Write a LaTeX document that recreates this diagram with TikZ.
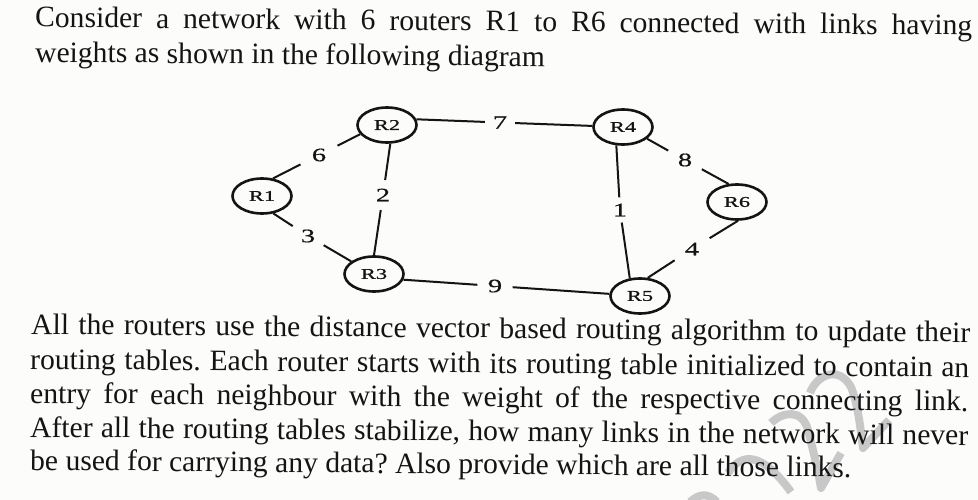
\documentclass[tikz,border=0pt]{standalone}
\usepackage{fontspec}
\usetikzlibrary{shapes.geometric}
\setmainfont{Liberation Serif}
\newfontfamily\routerfont[FakeStretch=1.5,FakeBold=0.6]{Liberation Serif}
\definecolor{ink}{HTML}{141414}
\definecolor{paper}{HTML}{FCFCFB}
\definecolor{stamp}{HTML}{C8C8C8}
\begin{document}
\begin{tikzpicture}[x=1pt,y=-1pt,thin,
			router node/.style = {ellipse,draw=ink,line width=2.6pt,inner sep = 0pt,minimum width = 59pt,minimum height = 35pt,font=\fontsize{15}{15}\routerfont,text=ink},
			weight node/.style = {circle,inner sep = 0pt,font=\fontsize{19}{19}\routerfont,text=ink},
			text line/.style = {anchor=base west,rotate=-0.5,inner sep = 0pt,text=ink,font=\fontsize{29.6}{32}\selectfont\frenchspacing},
			link/.style = {ink,line width=2pt},
			stamp line/.style = {stamp,line width=8pt,line join=round}]
			
			\useasboundingbox[fill=paper] (0,0) rectangle (978,500);
			
			\draw[stamp line] (810,393) .. controls (816,376) and (838,364) .. (851,387) .. controls (858,405) and (860,425) .. (863,448) -- (889,420);
			\draw[stamp line] (771,423) .. controls (782,412) and (802,408) .. (808,430) .. controls (813,450) and (818,470) .. (821,488) -- (841,453);
			\draw[stamp line] (728,473) .. controls (742,452) and (762,452) .. (791,492);
			\draw[stamp line] (690,502) .. controls (700,493) and (708,493) .. (717,502);
			
			\node[text line] (t1) at (35,27) {\makebox[937pt][s]{Consider a network with 6 routers R1 to R6 connected with links having}};
			\node[text line] (t2) at (35,62) {weights as shown in the following diagram};
			\node[text line] (t3) at (31,334) {\makebox[939pt][s]{All the routers use the distance vector based routing algorithm to update their}};
			\node[text line] (t4) at (30,369) {\makebox[939pt][s]{routing tables. Each router starts with its routing table initialized to contain an}};
			\node[text line] (t5) at (30,403) {\makebox[938pt][s]{entry for each neighbour with the weight of the respective connecting link.}};
			\node[text line] (t6) at (30,437) {\makebox[938pt][s]{After all the routing tables stabilize, how many links in the network will never}};
			\node[text line] (t7) at (30,470) {be used for carrying any data? Also provide which are all those links.};
			
			\node[router node] (r1) at (262,196) {R1};
			\node[router node] (r2) at (387,125) {R2};
			\node[router node] (r3) at (374,274) {R3};
			\node[router node] (r4) at (623,127) {R4};
			\node[router node] (r5) at (640,296) {R5};
			\node[router node] (r6) at (737,202) {R6};
			
			\node[weight node,minimum size=41pt] (w12) at (319,155) {6};
			\node[weight node,minimum size=36pt] (w13) at (308,236) {3};
			\node[weight node,minimum size=30pt] (w23) at (383,195) {2};
			\node[weight node,minimum size=30pt] (w24) at (500,122.5) {7};
			\node[weight node,minimum size=35pt] (w35) at (495,286) {9};
			\node[weight node,minimum size=25pt] (w45) at (620,210) {1};
			\node[weight node,minimum size=38pt] (w46) at (685,160) {8};
			\node[weight node,minimum size=41pt] (w56) at (692,249) {4};
			
			\draw[link] (r1.58) -- (w12);
			\draw[link] (w12) -- (r2.199);
			\draw[link] (r1.-57) -- (w13);
			\draw[link] (w13) -- (r3.151);
			\draw[link] (r2.280) -- (w23);
			\draw[link] (w23) -- (r3.90);
			\draw[link] (r2.11) -- (w24);
			\draw[link] (w24) -- (r4.178);
			\draw[link] (r3.-11) -- (w35);
			\draw[link] (w35) -- (r5.176);
			\draw[link] (r4.250) -- (w45);
			\draw[link] (w45) -- (r5.120);
			\draw[link] (r4.-26) -- (w46);
			\draw[link] (w46) -- (r6.115);
			\draw[link] (r5.67) -- (w56);
			\draw[link] (w56) -- (r6.-87);
			
			\end{tikzpicture}
\end{document}
